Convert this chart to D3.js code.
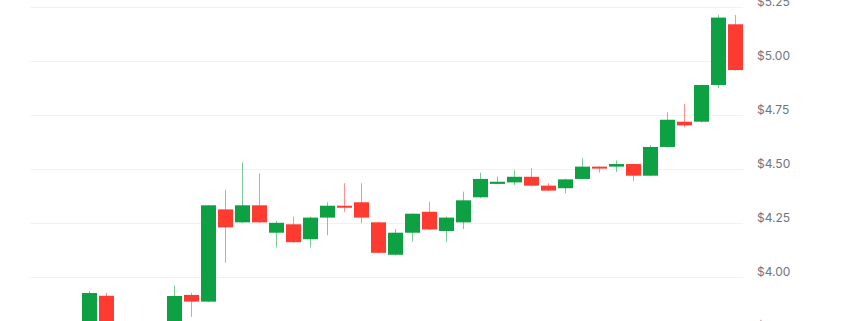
<!DOCTYPE html>
<head>
  <title>Candles</title>
  <meta charset="utf-8">
  <script src="https://cdn.jsdelivr.net/npm/d3@7"></script>
  <style>
    body { margin: 0; background: #fff; }
    .grid line { stroke: #f1f2f4; stroke-width: 1; }
    .axis text { font-family: Inter, "Noto Sans", sans-serif; font-size: 12px; fill: #6b7684; }
    .up { fill: #0ea144; stroke: #0ea144; }
    .down { fill: #fe3b30; stroke: #fe3b30; }
  </style>
</head>
<body>
  <div class="container"></div>
  <script>
'use strict';
var width = 845;
var height = 321;

// one entry per session, left to right (the first bars sit below the visible range)
var days = d3.range(-3, 39);
var open = [
  3.72, 3.70, 3.68, 3.74, 3.913, 3.76, 3.70, 3.72, 3.75, 3.917,
  3.886, 4.313, 4.253, 4.332, 4.205, 4.244, 4.175, 4.275, 4.330, 4.346,
  4.253, 4.103, 4.205, 4.302, 4.213, 4.253, 4.369, 4.431, 4.438, 4.464,
  4.423, 4.411, 4.454, 4.511, 4.511, 4.523, 4.469, 4.602, 4.719, 4.719,
  4.889, 5.170
];
var close = [
  3.70, 3.68, 3.74, 3.926, 3.76, 3.70, 3.72, 3.75, 3.912, 3.886,
  4.332, 4.230, 4.332, 4.253, 4.251, 4.161, 4.275, 4.330, 4.321, 4.275,
  4.112, 4.205, 4.293, 4.220, 4.275, 4.355, 4.454, 4.441, 4.464, 4.423,
  4.400, 4.452, 4.511, 4.505, 4.523, 4.469, 4.602, 4.728, 4.702, 4.889,
  5.201, 4.958
];
var high = [
  3.74, 3.73, 3.76, 3.935, 3.926, 3.77, 3.75, 3.77, 3.960, 3.927,
  4.333, 4.403, 4.531, 4.480, 4.260, 4.279, 4.279, 4.346, 4.434, 4.434,
  4.255, 4.222, 4.295, 4.349, 4.280, 4.395, 4.483, 4.464, 4.495, 4.503,
  4.434, 4.455, 4.550, 4.512, 4.540, 4.525, 4.611, 4.762, 4.801, 4.890,
  5.213, 5.213
];
var low = [
  3.69, 3.66, 3.67, 3.72, 3.74, 3.68, 3.68, 3.70, 3.73, 3.816,
  3.884, 4.066, 4.250, 4.250, 4.137, 4.158, 4.137, 4.194, 4.302, 4.249,
  4.110, 4.100, 4.163, 4.218, 4.163, 4.222, 4.365, 4.428, 4.426, 4.420,
  4.398, 4.387, 4.452, 4.483, 4.486, 4.444, 4.466, 4.600, 4.693, 4.715,
  4.874, 4.955
];
var priceTicks = [3.75, 4.00, 4.25, 4.50, 4.75, 5.00, 5.25];

var svg = d3.select('.container')
  .append('svg')
  .attr('width', width)
  .attr('height', height);

var x = d3.scaleBand()
  .domain(days)
  .range([30, 744])
  .paddingInner(2 / 17)
  .paddingOuter(1 / 17);

var y = d3.scaleLinear()
  .domain([3.75, 5.25])
  .range([331, 7]);

// gridlines
svg.append('g')
  .attr('class', 'grid')
  .selectAll('line')
  .data(priceTicks)
  .enter().append('line')
  .attr('x1', 30)
  .attr('x2', 743)
  .attr('y1', function (d) { return Math.round(y(d)) + 0.5; })
  .attr('y2', function (d) { return Math.round(y(d)) + 0.5; });

// price labels on the right
var axis = d3.axisRight(y)
  .tickValues(priceTicks)
  .tickSize(0)
  .tickPadding(0)
  .tickFormat(function (d) { return '$' + d.toFixed(2); });

svg.append('g')
  .attr('class', 'axis')
  .attr('transform', 'translate(757,0)')
  .call(axis)
  .call(function (g) { g.select('.domain').remove(); })
  .selectAll('text')
  .attr('dy', '-0.12em');

var bars = days.map(function (d, i) {
  return { day: d, o: open[i], c: close[i], h: high[i], l: low[i] };
});

var candle = svg.append('g')
  .selectAll('g')
  .data(bars)
  .enter().append('g')
  .attr('class', function (d) { return d.c >= d.o ? 'up' : 'down'; });

candle.append('line')
  .attr('x1', function (d) { return x(d.day) + x.bandwidth() / 2; })
  .attr('x2', function (d) { return x(d.day) + x.bandwidth() / 2; })
  .attr('y1', function (d) { return y(d.h); })
  .attr('y2', function (d) { return y(d.l); })
  .attr('stroke-width', 1)
  .attr('stroke-opacity', 0.55);

candle.append('rect')
  .attr('x', function (d) { return x(d.day); })
  .attr('width', x.bandwidth())
  .attr('y', function (d) { return y(Math.max(d.o, d.c)); })
  .attr('height', function (d) { return Math.max(2, Math.abs(y(d.o) - y(d.c))); })
  .attr('stroke', 'none');
  </script>
</body>
</html>
